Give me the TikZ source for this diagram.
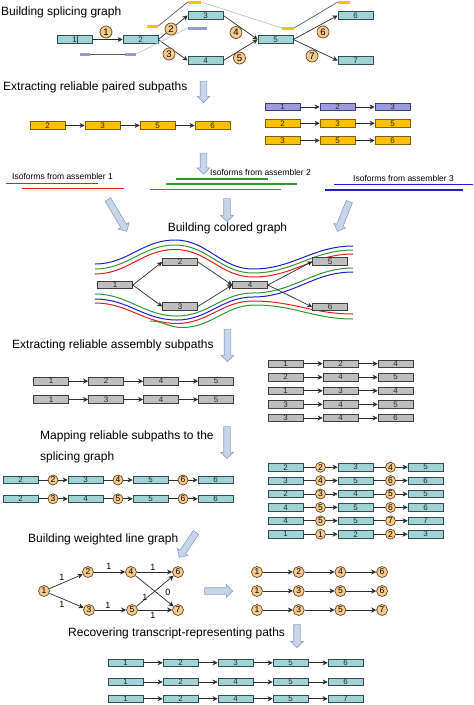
\documentclass[tikz,border=0pt]{standalone}
\usepackage{fontspec}
\setmainfont{Liberation Sans}
\usetikzlibrary{arrows.meta,shapes.arrows}
\definecolor{cyanf}{RGB}{160,212,212}
\definecolor{cyanb}{RGB}{55,75,85}
\definecolor{grayf}{RGB}{190,190,190}
\definecolor{grayb}{RGB}{64,64,64}
\definecolor{orf}{RGB}{255,192,0}
\definecolor{orb}{RGB}{128,96,0}
\definecolor{puf}{RGB}{155,155,222}
\definecolor{pub}{RGB}{60,60,120}
\definecolor{cirf}{RGB}{249,202,140}
\definecolor{cirb}{RGB}{100,70,40}
\definecolor{baf}{RGB}{200,212,234}
\definecolor{bab}{RGB}{140,160,200}
\definecolor{edgec}{RGB}{45,45,45}
\definecolor{cblue}{RGB}{30,30,200}
\definecolor{cgreen}{RGB}{50,150,50}
\definecolor{cred}{RGB}{225,30,30}
\definecolor{lightln}{RGB}{195,195,195}
\definecolor{darkln}{RGB}{90,90,90}
\definecolor{barpu}{RGB}{150,150,220}
\tikzset{
 bx/.style={draw, line width=0.7pt, minimum width=35pt, minimum height=7.5pt, inner sep=0pt, font=\fontsize{8}{8}\selectfont, text=black!85},
 cbox/.style={bx, fill=cyanf, draw=cyanb},
 gbox/.style={bx, fill=grayf, draw=grayb},
 obox/.style={bx, fill=orf, draw=orb},
 pbox/.style={bx, fill=puf, draw=pub},
 circ/.style={circle, draw=cirb, fill=cirf, line width=0.7pt, minimum size=#1, inner sep=0pt, font=\fontsize{8.5}{8.5}\selectfont},
 circ/.default=10pt,
 arr/.style={draw=edgec, line width=0.7pt, -{Stealth[length=5pt,width=5pt,inset=1.5pt]}},
 ln/.style={draw=edgec, line width=0.7pt},
 title/.style={anchor=west, font=\fontsize{12}{14}\selectfont, inner sep=0pt},
 small/.style={anchor=west, font=\fontsize{8.5}{10}\selectfont, inner sep=0pt},
 wl/.style={font=\fontsize{9}{9}\selectfont, inner sep=0pt},
 barrow/.style={single arrow, draw=bab, fill=baf, line width=0.6pt, inner xsep=0pt, inner ysep=3pt, single arrow head extend=3pt, minimum height=#1, single arrow tip angle=90},
 bar/.style={rectangle, inner sep=0pt, minimum height=3pt, minimum width=#1},
 cv/.style={line width=1pt},
 seg/.style={line width=1.1pt},
}
\newcommand\brow[6]{%
 \foreach \lab [count=\i] in {#6} {\node[#1] (#2\i) at ({#3+#4*(\i-1)},#5) {\lab};}
 \foreach \lab [count=\i, evaluate=\i as \j using int(\i-1)] in {#6} {\ifnum\i>1 \draw[arr] (#2\j) -- (#2\i);\fi}
}
\newcommand\maprow[6]{%
 \foreach \lab [count=\i] in {#5} {\node[cbox] (#1b\i) at ({#2+#3*(\i-1)},#4) {\lab};}
 \foreach \lab [count=\i, evaluate=\i as \j using int(\i+1)] in {#6} {\node[circ] (#1c\i) at ({#2+#3*(\i-1)+#3/2},#4) {\lab};
   \draw[ln] (#1b\i) -- (#1c\i); \draw[arr] (#1c\i) -- (#1b\j);}
}
\begin{document}
\begin{tikzpicture}[x=1pt,y=-1pt]
\useasboundingbox (0,0) rectangle (474,705);
% ---------- Section 1: splicing graph
\node[title] (t1) at (1,12) {Building splicing graph};
\node[cbox] (s1) at (74.5,39.5) {1};
\node[cbox] (s2) at (140.5,39.5) {2};
\node[cbox] (s3) at (205.5,15.5) {3};
\node[cbox] (s4) at (205.5,60.5) {4};
\node[cbox] (s5) at (275.5,39.5) {5};
\node[cbox] (s6) at (355.5,15.5) {6};
\node[cbox] (s7) at (355.5,60.5) {7};
\draw[draw=cyanb, line width=0.6pt] ([xshift=3pt]s1.north) -- ([xshift=3pt]s1.south);
\draw[arr] (s1.east) -- (s2.west);
\draw[arr] (s2.east) -- (s3.west);
\draw[arr] (s2.east) -- (s4.west);
\draw[arr] (s3.east) -- (s5.west);
\draw[arr] (s4.east) -- (s5.west);
\draw[arr] (s5.east) -- (s6.west);
\draw[arr] (s5.east) -- (s7.west);
\node[bar=11pt, fill=orf] (oa) at (152.5,26) {};
\node[bar=13pt, fill=orf] (ob) at (194.5,2) {};
\node[bar=12pt, fill=orf] (oc) at (288,28) {};
\node[bar=12pt, fill=orf] (od) at (344,2) {};
\draw[darkln, line width=0.7pt] (oa.east) -- (ob.west);
\draw[lightln, line width=0.7pt] (ob.east) -- (oc.west);
\draw[darkln, line width=0.7pt] (oc.east) -- (od.west);
\node[bar=10pt, fill=barpu] (pa) at (85,54) {};
\node[bar=11pt, fill=barpu] (pb) at (130.5,54) {};
\node[bar=19pt, fill=barpu] (pc) at (197.5,28) {};
\draw[darkln, line width=0.7pt] (pa.east) -- (pb.west);
\draw[lightln, line width=0.7pt] (pb.east) -- (pc.west);
\node[circ=12pt, font=\fontsize{9.5}{9.5}\selectfont] (e1) at (106,32) {1};
\node[circ=12pt, font=\fontsize{9.5}{9.5}\selectfont] (e2) at (171,29) {2};
\node[circ=12pt, font=\fontsize{9.5}{9.5}\selectfont] (e3) at (169,54) {3};
\node[circ=12pt, font=\fontsize{9.5}{9.5}\selectfont] (e4) at (236,32.5) {4};
\node[circ=12pt, font=\fontsize{9.5}{9.5}\selectfont] (e5) at (239.5,58) {5};
\node[circ=12pt, font=\fontsize{9.5}{9.5}\selectfont] (e6) at (323,32) {6};
\node[circ=12pt, font=\fontsize{9.5}{9.5}\selectfont] (e7) at (312,56) {7};
% ---------- Section 2
\node[barrow=21pt, rotate=-90] (ba1) at (203.5,90.5) {};
\node[title] (t2) at (3,87) {Extracting reliable paired subpaths};
\brow{obox}{pl}{47.5}{55}{125.5}{2,3,5,6}
\brow{pbox}{pr1}{282.5}{55}{107}{1,2,3}
\brow{obox}{pr2}{282.5}{55}{123.3}{2,3,5}
\brow{obox}{pr3}{282.5}{55}{140.5}{3,5,6}
\node[barrow=21pt, rotate=-90] (ba2) at (203.5,162) {};
% ---------- Section 3: isoforms
\node[small] (i1) at (12,176) {Isoforms from assembler 1};
\node[small] (i2) at (210,172) {Isoforms from assembler 2};
\node[small] (i3) at (353,178.3) {Isoforms from assembler 3};
\draw[cred, seg] (6,183.3) -- (98,183.3);
\draw[cred, seg] (22,188.3) -- (124,188.3);
\draw[cgreen, seg] (176,179) -- (268,179);
\draw[cgreen, seg] (166,184) -- (297,184);
\draw[cgreen, seg] (150,189.3) -- (281,189.3);
\draw[cblue, seg] (334,184.3) -- (473,184.3);
\draw[cblue, seg] (325,190) -- (463,190);
\node[barrow=37pt, rotate=-59.3] (ba3) at (116.5,214) {};
\node[barrow=23pt, rotate=-90] (ba4) at (227,208.5) {};
\node[barrow=32pt, rotate=-111.8] (ba5) at (344,215) {};
\node[anchor=center, font=\fontsize{12}{14}\selectfont, inner sep=0pt] (t3) at (227.5,228) {Building colored graph};
% colored curves
\draw[cblue,cv] (95,264) to[out=0,in=180] (175,240) to[out=0,in=180] (253,269) to[out=0,in=180] (353,246);
\draw[cgreen,cv] (95,269) to[out=0,in=180] (175,245) to[out=0,in=180] (253,273) to[out=0,in=180] (353,250);
\draw[cred,cv] (95,274) to[out=0,in=180] (175,249.5) to[out=0,in=180] (253,277) to[out=0,in=180] (353,254);
\draw[cgreen,cv] (95,294) to[out=0,in=180] (177,316) to[out=0,in=180] (253,293) to[out=0,in=180] (353,268);
\draw[cblue,cv] (95,299) to[out=0,in=180] (177,320) to[out=0,in=180] (253,297) to[out=0,in=180] (353,272);
\draw[cred,cv] (95,303) to[out=0,in=180] (177,323.5) to[out=0,in=180] (253,301) to[out=0,in=180] (353,314);
\draw[cgreen,cv] (150,321) to[out=0,in=180] (182,327.5) to[out=0,in=180] (255,305) to[out=0,in=180] (353,319);
\node[gbox] (g1) at (115,285) {1};
\node[gbox] (g2) at (180,262) {2};
\node[gbox] (g3) at (180,306.5) {3};
\node[gbox] (g4) at (250,285) {4};
\node[gbox] (g5) at (330,261.5) {5};
\node[gbox] (g6) at (330,307) {6};
\draw[arr] (g1.east) -- (g2.west);
\draw[arr] (g1.east) -- (g3.west);
\draw[arr] (g2.east) -- (g4.west);
\draw[arr] (g3.east) -- (g4.west);
\draw[arr] (g4.east) -- (g5.west);
\draw[arr] (g4.east) -- (g6.west);
% ---------- Section 4
\node[barrow=32pt, rotate=-90] (ba6) at (227.5,344) {};
\node[title] (t4) at (12,345) {Extracting reliable assembly subpaths};
\brow{gbox}{al1}{51}{55}{381.2}{1,2,4,5}
\brow{gbox}{al2}{51}{55}{399.5}{1,3,4,5}
\brow{gbox}{ar1}{285.5}{55}{363.6}{1,2,4}
\brow{gbox}{ar2}{285.5}{55}{377.2}{2,4,5}
\brow{gbox}{ar3}{285.5}{55}{390.8}{1,3,4}
\brow{gbox}{ar4}{285.5}{55}{404.4}{3,4,5}
\brow{gbox}{ar5}{285.5}{55}{418}{3,4,6}
% ---------- Section 5
\node[title] (t5a) at (40,436) {Mapping reliable subpaths to the};
\node[title] (t5b) at (40,457) {splicing graph};
\node[barrow=32pt, rotate=-90] (ba7) at (227,441) {};
\maprow{ml1}{20.5}{65}{480}{2,3,5,6}{2,4,6}
\maprow{ml2}{20.5}{65}{498.8}{2,4,5,6}{3,5,6}
\maprow{mr1}{285.5}{70}{467.2}{2,3,5}{2,4}
\maprow{mr2}{285.5}{70}{480.6}{3,5,6}{4,6}
\maprow{mr3}{285.5}{70}{494}{2,4,5}{3,5}
\maprow{mr4}{285.5}{70}{507.4}{4,5,6}{5,6}
\maprow{mr5}{285.5}{70}{520.8}{4,5,7}{5,7}
\maprow{mr6}{285.5}{70}{534.2}{1,2,3}{1,2}
% ---------- Section 6: weighted line graph
\node[title] (t6) at (28,539) {Building weighted line graph};
\node[barrow=30pt, rotate=-124.2] (ba8) at (188.5,543.5) {};
\node[circ=11pt] (L1) at (44,591) {1};
\node[circ=11pt] (L2) at (88,572) {2};
\node[circ=11pt] (L3) at (89,610) {3};
\node[circ=11pt] (L4) at (131,572) {4};
\node[circ=11pt] (L5) at (132,610) {5};
\node[circ=11pt] (L6) at (178,572) {6};
\node[circ=11pt] (L7) at (178,610) {7};
\draw[arr] (L1) -- (L2);
\draw[arr] (L1) -- (L3);
\draw[arr] (L2) -- (L4);
\draw[arr] (L3) -- (L5);
\draw[arr] (L4) -- (L6);
\draw[arr] (L5) -- (L7);
\draw[arr] (L5) -- (L6);
\draw[arr] (L4) -- (L7);
\node[wl] (w12) at (62,577) {1};
\node[wl] (w13) at (62,604) {1};
\node[wl] (w24) at (109,566) {1};
\node[wl] (w35) at (108,605) {1};
\node[wl] (w46) at (153,567) {1};
\node[wl] (w57) at (153,615.5) {1};
\node[wl] (w56) at (145,597) {1};
\node[wl] (w47) at (168,592) {0};
\node[barrow=28pt] (ba9) at (217,591) {};
\brow{circ=11pt}{lr1}{257}{41.7}{572}{1,2,4,6}
\brow{circ=11pt}{lr2}{257}{41.7}{591}{1,3,5,6}
\brow{circ=11pt}{lr3}{257}{41.7}{610}{1,3,5,7}
% ---------- Section 7
\node[title] (t7) at (68,633) {Recovering transcript-representing paths};
\node[barrow=23pt, rotate=-90] (ba10) at (297,634.5) {};
\brow{cbox}{tr1}{125.5}{55}{662.8}{1,2,3,5,6}
\brow{cbox}{tr2}{125.5}{55}{682}{1,2,4,5,6}
\brow{cbox}{tr3}{125.5}{55}{698.7}{1,2,4,5,7}
\end{tikzpicture}
\end{document}
